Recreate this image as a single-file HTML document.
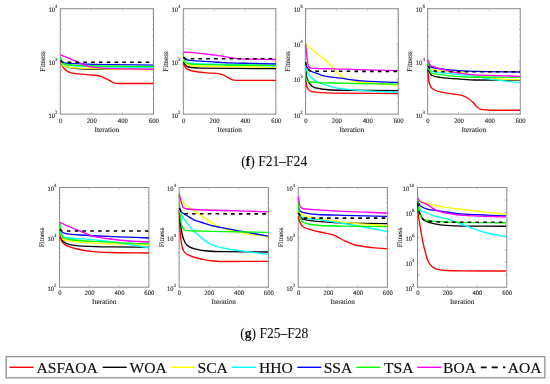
<!DOCTYPE html>
<html><head><meta charset="utf-8"><style>
html,body{margin:0;padding:0;background:#fff;width:550px;height:384px;overflow:hidden;}
body{position:relative;font-family:"Liberation Serif", serif;}
</style></head><body>
<svg width="550" height="384" viewBox="0 0 550 384" style="position:absolute;left:0;top:0;will-change:transform">
<g font-family='"Liberation Serif", serif' text-rendering="geometricPrecision">
<clipPath id="c0"><rect x="59.4" y="7.7" width="94.4" height="107.4"/></clipPath>
<path d="M60.30 98.24h1.3M153.50 98.24h-1.3M60.30 88.96h1.3M153.50 88.96h-1.3M60.30 82.37h1.3M153.50 82.37h-1.3M60.30 77.26h1.3M153.50 77.26h-1.3M60.30 73.09h1.3M153.50 73.09h-1.3M60.30 69.56h1.3M153.50 69.56h-1.3M60.30 66.51h1.3M153.50 66.51h-1.3M60.30 63.81h1.3M153.50 63.81h-1.3M60.30 45.54h1.3M153.50 45.54h-1.3M60.30 36.26h1.3M153.50 36.26h-1.3M60.30 29.67h1.3M153.50 29.67h-1.3M60.30 24.56h1.3M153.50 24.56h-1.3M60.30 20.39h1.3M153.50 20.39h-1.3M60.30 16.86h1.3M153.50 16.86h-1.3M60.30 13.81h1.3M153.50 13.81h-1.3M60.30 11.11h1.3M153.50 11.11h-1.3M60.30 114.10h2.2M153.50 114.10h-2.2M60.30 61.40h2.2M153.50 61.40h-2.2M60.30 8.70h2.2M153.50 8.70h-2.2M91.37 114.10v-2.2M91.37 8.70v2.2M122.43 114.10v-2.2M122.43 8.70v2.2" stroke="#8c8c8c" stroke-width="0.6" stroke-opacity="0.7" fill="none"/>
<rect x="60.30" y="8.70" width="93.20" height="105.40" fill="none" stroke="#8c8c8c" stroke-width="1"/>
<g clip-path="url(#c0)" fill="none" stroke-width="1.35" stroke-linejoin="round" stroke-linecap="butt"><path d="M60.60 61.50 C61.07 62.67 61.53 64.05 62.00 65.00 C62.75 66.52 63.50 67.94 64.25 68.75 C65.63 70.25 67.02 71.31 68.40 71.90 C70.13 72.64 71.87 73.14 73.60 73.40 C78.82 74.18 84.03 74.35 89.25 74.80 C92.03 75.04 94.82 75.11 97.60 75.50 C99.67 75.79 101.73 76.75 103.80 77.60 C105.20 78.17 106.60 78.95 108.00 79.70 C109.33 80.41 110.67 81.45 112.00 82.00 C113.33 82.55 114.67 83.21 116.00 83.30 C118.00 83.43 120.00 83.50 122.00 83.50 C132.33 83.50 142.67 83.50 153.00 83.50" stroke="#ff0000"/><path d="M60.60 60.40 C61.40 61.93 62.20 64.42 63.00 65.00 C65.33 66.68 67.67 67.34 70.00 67.70 C75.00 68.47 80.00 68.95 85.00 69.00 C107.67 69.24 130.33 69.20 153.00 69.30" stroke="#000000"/><path d="M60.60 60.00 C61.40 61.83 62.20 65.20 63.00 65.50 C68.67 67.65 74.33 67.91 80.00 68.20 C89.33 68.68 98.67 68.79 108.00 69.00 C123.00 69.33 138.00 69.53 153.00 69.80" stroke="#ffff00"/><path d="M60.60 59.00 C61.40 60.67 62.20 63.75 63.00 64.00 C68.67 65.77 74.33 65.92 80.00 66.20 C89.33 66.66 98.67 66.89 108.00 67.00 C123.00 67.17 138.00 67.20 153.00 67.30" stroke="#00ffff"/><path d="M60.60 60.50 C61.73 61.27 62.87 62.64 64.00 62.80 C69.33 63.54 74.67 63.58 80.00 63.80 C89.33 64.18 98.67 64.45 108.00 64.60 C123.00 64.85 138.00 64.93 153.00 65.10" stroke="#0000ff"/><path d="M60.60 57.00 C61.23 59.00 61.87 62.63 62.50 63.00 C65.00 64.48 67.50 64.83 70.00 65.00 C82.67 65.87 95.33 66.06 108.00 66.20 C123.00 66.37 138.00 66.40 153.00 66.50" stroke="#00ff00"/><path d="M60.60 55.00 C63.07 55.93 65.53 56.80 68.00 57.80 C71.17 59.09 74.33 60.60 77.50 62.00 C80.00 63.10 82.50 64.49 85.00 65.30 C87.47 66.10 89.93 66.85 92.40 67.20 C95.87 67.70 99.33 68.02 102.80 68.20 C108.53 68.51 114.27 68.67 120.00 68.80 C131.00 69.04 142.00 69.13 153.00 69.30" stroke="#ff00ff"/><path d="M60.60 60.40 C61.40 61.03 62.20 62.30 63.00 62.30 C93.00 62.30 123.00 62.30 153.00 62.30" stroke="#000000" stroke-dasharray="3.6 4.2" stroke-width="1.6"/></g>
<g fill="#2a2a2a" stroke="#2a2a2a" stroke-width="0.12"><text x="57.60" y="117.50" text-anchor="end" font-size="6.70">10<tspan dy="-4.00" font-size="4.96">2</tspan></text><text x="57.60" y="64.80" text-anchor="end" font-size="6.70">10<tspan dy="-4.00" font-size="4.96">3</tspan></text><text x="57.60" y="12.10" text-anchor="end" font-size="6.70">10<tspan dy="-4.00" font-size="4.96">4</tspan></text><text x="60.70" y="123.10" text-anchor="middle" font-size="6.70">0</text><text x="91.77" y="123.10" text-anchor="middle" font-size="6.70">200</text><text x="122.83" y="123.10" text-anchor="middle" font-size="6.70">400</text><text x="153.90" y="123.10" text-anchor="middle" font-size="6.70">600</text><text x="106.90" y="132.20" text-anchor="middle" font-size="7.30">Iteration</text><text transform="translate(44.80 61.50) rotate(-90)" text-anchor="middle" font-size="7.30">Fitness</text></g>
<clipPath id="c1"><rect x="182.4" y="7.7" width="93.8" height="107.4"/></clipPath>
<path d="M183.30 98.24h1.3M275.90 98.24h-1.3M183.30 88.96h1.3M275.90 88.96h-1.3M183.30 82.37h1.3M275.90 82.37h-1.3M183.30 77.26h1.3M275.90 77.26h-1.3M183.30 73.09h1.3M275.90 73.09h-1.3M183.30 69.56h1.3M275.90 69.56h-1.3M183.30 66.51h1.3M275.90 66.51h-1.3M183.30 63.81h1.3M275.90 63.81h-1.3M183.30 45.54h1.3M275.90 45.54h-1.3M183.30 36.26h1.3M275.90 36.26h-1.3M183.30 29.67h1.3M275.90 29.67h-1.3M183.30 24.56h1.3M275.90 24.56h-1.3M183.30 20.39h1.3M275.90 20.39h-1.3M183.30 16.86h1.3M275.90 16.86h-1.3M183.30 13.81h1.3M275.90 13.81h-1.3M183.30 11.11h1.3M275.90 11.11h-1.3M183.30 114.10h2.2M275.90 114.10h-2.2M183.30 61.40h2.2M275.90 61.40h-2.2M183.30 8.70h2.2M275.90 8.70h-2.2M214.17 114.10v-2.2M214.17 8.70v2.2M245.03 114.10v-2.2M245.03 8.70v2.2" stroke="#8c8c8c" stroke-width="0.6" stroke-opacity="0.7" fill="none"/>
<rect x="183.30" y="8.70" width="92.60" height="105.40" fill="none" stroke="#8c8c8c" stroke-width="1"/>
<g clip-path="url(#c1)" fill="none" stroke-width="1.35" stroke-linejoin="round" stroke-linecap="butt"><path d="M183.30 63.40 C184.03 64.77 184.77 66.68 185.50 67.50 C186.43 68.55 187.37 69.28 188.30 69.70 C190.03 70.48 191.77 70.93 193.50 71.25 C197.67 72.02 201.83 72.39 206.00 72.80 C210.53 73.25 215.07 73.24 219.60 73.90 C221.40 74.16 223.20 75.00 225.00 75.80 C226.67 76.54 228.33 78.07 230.00 78.80 C231.33 79.38 232.67 80.11 234.00 80.20 C236.00 80.33 238.00 80.40 240.00 80.40 C252.00 80.40 264.00 80.40 276.00 80.40" stroke="#ff0000"/><path d="M183.30 62.00 C184.97 63.67 186.63 66.68 188.30 67.00 C192.20 67.75 196.10 68.04 200.00 68.10 C225.33 68.50 250.67 68.43 276.00 68.60" stroke="#000000"/><path d="M183.30 60.00 C184.53 61.50 185.77 64.06 187.00 64.50 C189.67 65.45 192.33 65.90 195.00 66.00 C206.67 66.44 218.33 66.41 230.00 66.60 C245.33 66.85 260.67 67.07 276.00 67.30" stroke="#ffff00"/><path d="M183.30 58.00 C184.20 59.33 185.10 61.58 186.00 62.00 C188.00 62.94 190.00 63.38 192.00 63.50 C204.67 64.25 217.33 64.13 230.00 64.50 C245.33 64.95 260.67 65.50 276.00 66.00" stroke="#00ffff"/><path d="M183.30 57.00 C184.20 57.83 185.10 59.21 186.00 59.50 C187.47 59.97 188.93 60.14 190.40 60.30 C195.60 60.88 200.80 61.05 206.00 61.40 C214.00 61.93 222.00 62.62 230.00 62.90 C236.67 63.14 243.33 63.24 250.00 63.40 C258.67 63.61 267.33 63.80 276.00 64.00" stroke="#0000ff"/><path d="M183.10 52.00 C183.27 53.67 183.43 56.00 183.60 57.00 C183.93 59.00 184.27 60.41 184.60 61.00 C185.23 62.12 185.87 62.74 186.50 63.00 C188.33 63.74 190.17 64.11 192.00 64.20 C204.67 64.81 217.33 64.84 230.00 65.00 C245.33 65.19 260.67 65.27 276.00 65.40" stroke="#00ff00"/><path d="M183.30 52.00 C188.87 52.43 194.43 52.76 200.00 53.30 C205.00 53.78 210.00 54.53 215.00 55.20 C218.33 55.64 221.67 56.05 225.00 56.60 C227.33 56.99 229.67 57.66 232.00 58.00 C234.67 58.39 237.33 58.81 240.00 58.90 C252.00 59.31 264.00 59.30 276.00 59.50" stroke="#ff00ff"/><path d="M183.30 57.20 C184.20 57.72 185.10 58.75 186.00 58.75 C216.00 58.75 246.00 58.75 276.00 58.75" stroke="#000000" stroke-dasharray="3.6 4.2" stroke-width="1.6"/></g>
<g fill="#2a2a2a" stroke="#2a2a2a" stroke-width="0.12"><text x="180.60" y="117.50" text-anchor="end" font-size="6.70">10<tspan dy="-4.00" font-size="4.96">2</tspan></text><text x="180.60" y="64.80" text-anchor="end" font-size="6.70">10<tspan dy="-4.00" font-size="4.96">3</tspan></text><text x="180.60" y="12.10" text-anchor="end" font-size="6.70">10<tspan dy="-4.00" font-size="4.96">4</tspan></text><text x="183.70" y="123.10" text-anchor="middle" font-size="6.70">0</text><text x="214.57" y="123.10" text-anchor="middle" font-size="6.70">200</text><text x="245.43" y="123.10" text-anchor="middle" font-size="6.70">400</text><text x="276.30" y="123.10" text-anchor="middle" font-size="6.70">600</text><text x="229.60" y="132.20" text-anchor="middle" font-size="7.30">Iteration</text><text transform="translate(167.80 61.50) rotate(-90)" text-anchor="middle" font-size="7.30">Fitness</text></g>
<clipPath id="c2"><rect x="304.6" y="7.7" width="94.0" height="107.4"/></clipPath>
<path d="M305.50 103.52h1.3M398.30 103.52h-1.3M305.50 97.34h1.3M398.30 97.34h-1.3M305.50 92.95h1.3M398.30 92.95h-1.3M305.50 89.54h1.3M398.30 89.54h-1.3M305.50 86.76h1.3M398.30 86.76h-1.3M305.50 84.41h1.3M398.30 84.41h-1.3M305.50 82.37h1.3M398.30 82.37h-1.3M305.50 80.57h1.3M398.30 80.57h-1.3M305.50 68.39h1.3M398.30 68.39h-1.3M305.50 62.20h1.3M398.30 62.20h-1.3M305.50 57.81h1.3M398.30 57.81h-1.3M305.50 54.41h1.3M398.30 54.41h-1.3M305.50 51.63h1.3M398.30 51.63h-1.3M305.50 49.28h1.3M398.30 49.28h-1.3M305.50 47.24h1.3M398.30 47.24h-1.3M305.50 45.44h1.3M398.30 45.44h-1.3M305.50 33.26h1.3M398.30 33.26h-1.3M305.50 27.07h1.3M398.30 27.07h-1.3M305.50 22.68h1.3M398.30 22.68h-1.3M305.50 19.28h1.3M398.30 19.28h-1.3M305.50 16.49h1.3M398.30 16.49h-1.3M305.50 14.14h1.3M398.30 14.14h-1.3M305.50 12.10h1.3M398.30 12.10h-1.3M305.50 10.31h1.3M398.30 10.31h-1.3M305.50 114.10h2.2M398.30 114.10h-2.2M305.50 78.97h2.2M398.30 78.97h-2.2M305.50 43.83h2.2M398.30 43.83h-2.2M305.50 8.70h2.2M398.30 8.70h-2.2M336.43 114.10v-2.2M336.43 8.70v2.2M367.37 114.10v-2.2M367.37 8.70v2.2" stroke="#8c8c8c" stroke-width="0.6" stroke-opacity="0.7" fill="none"/>
<rect x="305.50" y="8.70" width="92.80" height="105.40" fill="none" stroke="#8c8c8c" stroke-width="1"/>
<g clip-path="url(#c2)" fill="none" stroke-width="1.35" stroke-linejoin="round" stroke-linecap="butt"><path d="M305.40 68.10 C305.57 72.27 305.73 79.06 305.90 80.60 C306.43 85.53 306.97 87.57 307.50 88.40 C308.80 90.43 310.10 91.39 311.40 91.60 C318.27 92.73 325.13 93.01 332.00 93.10 C354.00 93.39 376.00 93.37 398.00 93.50" stroke="#ff0000"/><path d="M305.40 65.00 C305.83 69.17 306.27 75.91 306.70 77.50 C307.73 81.28 308.77 82.49 309.80 83.75 C311.37 85.66 312.93 87.29 314.50 87.70 C320.33 89.24 326.17 89.88 332.00 90.00 C354.00 90.45 376.00 90.40 398.00 90.60" stroke="#000000"/><path d="M305.40 43.90 C309.47 47.27 313.53 50.68 317.60 54.00 C320.20 56.12 322.80 57.96 325.40 60.30 C328.03 62.67 330.67 65.65 333.30 68.30 C335.73 70.75 338.17 73.96 340.60 75.60 C343.03 77.24 345.47 78.36 347.90 79.30 C350.68 80.38 353.47 81.54 356.25 81.90 C359.17 82.27 362.08 82.38 365.00 82.60 C376.00 83.45 387.00 84.20 398.00 85.00" stroke="#ffff00"/><path d="M305.40 67.30 C306.87 70.20 308.33 74.27 309.80 76.00 C312.40 79.07 315.00 80.94 317.60 82.20 C322.40 84.52 327.20 85.80 332.00 86.90 C336.33 87.89 340.67 88.70 345.00 89.20 C350.67 89.85 356.33 90.25 362.00 90.60 C374.00 91.34 386.00 91.73 398.00 92.30" stroke="#00ffff"/><path d="M305.40 65.00 C306.87 66.83 308.33 69.57 309.80 70.50 C312.40 72.15 315.00 72.65 317.60 73.60 C320.07 74.50 322.53 75.59 325.00 76.10 C330.00 77.14 335.00 77.55 340.00 78.20 C348.33 79.28 356.67 80.69 365.00 81.20 C376.00 81.87 387.00 82.07 398.00 82.50" stroke="#0000ff"/><path d="M305.10 44.50 C305.20 53.00 305.30 67.36 305.40 70.00 C305.60 75.28 305.80 77.83 306.00 78.50 C306.50 80.18 307.00 80.66 307.50 81.00 C308.33 81.57 309.17 81.90 310.00 82.00 C311.50 82.18 313.00 82.22 314.50 82.30 C320.33 82.61 326.17 82.84 332.00 83.00 C354.00 83.59 376.00 83.80 398.00 84.20" stroke="#00ff00"/><path d="M305.60 44.20 C305.87 46.80 306.13 49.50 306.40 52.00 C306.73 55.12 307.07 58.80 307.40 61.00 C307.73 63.20 308.07 65.61 308.40 66.20 C308.93 67.14 309.47 67.61 310.00 67.80 C310.47 67.96 310.93 68.06 311.40 68.10 C318.27 68.67 325.13 68.68 332.00 68.90 C354.00 69.61 376.00 70.03 398.00 70.60" stroke="#ff00ff"/><path d="M305.40 62.00 C306.27 64.33 307.13 68.00 308.00 69.00 C308.87 70.00 309.73 70.84 310.60 70.90 C313.73 71.13 316.87 71.18 320.00 71.20 C346.00 71.36 372.00 71.33 398.00 71.40" stroke="#000000" stroke-dasharray="3.6 4.2" stroke-width="1.6"/></g>
<g fill="#2a2a2a" stroke="#2a2a2a" stroke-width="0.12"><text x="302.80" y="117.50" text-anchor="end" font-size="6.70">10<tspan dy="-4.00" font-size="4.96">2</tspan></text><text x="302.80" y="82.37" text-anchor="end" font-size="6.70">10<tspan dy="-4.00" font-size="4.96">3</tspan></text><text x="302.80" y="47.23" text-anchor="end" font-size="6.70">10<tspan dy="-4.00" font-size="4.96">4</tspan></text><text x="302.80" y="12.10" text-anchor="end" font-size="6.70">10<tspan dy="-4.00" font-size="4.96">5</tspan></text><text x="305.90" y="123.10" text-anchor="middle" font-size="6.70">0</text><text x="336.83" y="123.10" text-anchor="middle" font-size="6.70">200</text><text x="367.77" y="123.10" text-anchor="middle" font-size="6.70">400</text><text x="398.70" y="123.10" text-anchor="middle" font-size="6.70">600</text><text x="351.90" y="132.20" text-anchor="middle" font-size="7.30">Iteration</text><text transform="translate(290.00 61.50) rotate(-90)" text-anchor="middle" font-size="7.30">Fitness</text></g>
<clipPath id="c3"><rect x="426.7" y="7.7" width="93.9" height="107.4"/></clipPath>
<path d="M427.60 98.24h1.3M520.30 98.24h-1.3M427.60 88.96h1.3M520.30 88.96h-1.3M427.60 82.37h1.3M520.30 82.37h-1.3M427.60 77.26h1.3M520.30 77.26h-1.3M427.60 73.09h1.3M520.30 73.09h-1.3M427.60 69.56h1.3M520.30 69.56h-1.3M427.60 66.51h1.3M520.30 66.51h-1.3M427.60 63.81h1.3M520.30 63.81h-1.3M427.60 45.54h1.3M520.30 45.54h-1.3M427.60 36.26h1.3M520.30 36.26h-1.3M427.60 29.67h1.3M520.30 29.67h-1.3M427.60 24.56h1.3M520.30 24.56h-1.3M427.60 20.39h1.3M520.30 20.39h-1.3M427.60 16.86h1.3M520.30 16.86h-1.3M427.60 13.81h1.3M520.30 13.81h-1.3M427.60 11.11h1.3M520.30 11.11h-1.3M427.60 114.10h2.2M520.30 114.10h-2.2M427.60 61.40h2.2M520.30 61.40h-2.2M427.60 8.70h2.2M520.30 8.70h-2.2M458.50 114.10v-2.2M458.50 8.70v2.2M489.40 114.10v-2.2M489.40 8.70v2.2" stroke="#8c8c8c" stroke-width="0.6" stroke-opacity="0.7" fill="none"/>
<rect x="427.60" y="8.70" width="92.70" height="105.40" fill="none" stroke="#8c8c8c" stroke-width="1"/>
<g clip-path="url(#c3)" fill="none" stroke-width="1.35" stroke-linejoin="round" stroke-linecap="butt"><path d="M427.70 70.00 C428.13 74.10 428.57 80.87 429.00 82.30 C430.33 86.71 431.67 88.36 433.00 89.20 C436.10 91.15 439.20 91.74 442.30 92.40 C446.83 93.36 451.37 93.67 455.90 94.40 C458.17 94.77 460.43 94.99 462.70 95.60 C464.47 96.07 466.23 97.18 468.00 98.30 C469.67 99.36 471.33 100.89 473.00 102.50 C474.33 103.79 475.67 105.96 477.00 107.00 C478.33 108.04 479.67 109.17 481.00 109.40 C484.00 109.91 487.00 110.20 490.00 110.20 C500.00 110.20 510.00 110.20 520.00 110.20" stroke="#ff0000"/><path d="M427.70 68.70 C429.13 70.97 430.57 74.89 432.00 75.50 C434.67 76.64 437.33 76.93 440.00 77.30 C446.67 78.21 453.33 78.62 460.00 79.10 C465.00 79.46 470.00 79.95 475.00 80.00 C490.00 80.14 505.00 80.13 520.00 80.20" stroke="#000000"/><path d="M427.70 66.80 C428.47 67.43 429.23 68.40 430.00 68.70 C433.33 70.02 436.67 70.52 440.00 70.90 C446.67 71.65 453.33 71.55 460.00 72.30 C465.00 72.86 470.00 75.13 475.00 76.00 C483.33 77.44 491.67 78.86 500.00 79.20 C506.67 79.47 513.33 79.53 520.00 79.70" stroke="#ffff00"/><path d="M428.00 68.70 C429.33 69.60 430.67 71.05 432.00 71.40 C436.33 72.53 440.67 72.67 445.00 73.20 C455.00 74.43 465.00 75.00 475.00 76.40 C480.00 77.10 485.00 78.46 490.00 79.20 C500.00 80.67 510.00 81.53 520.00 82.70" stroke="#00ffff"/><path d="M427.70 64.10 C428.63 65.00 429.57 66.46 430.50 66.80 C434.67 68.30 438.83 68.64 443.00 69.10 C453.67 70.28 464.33 71.15 475.00 71.40 C490.00 71.75 505.00 71.80 520.00 72.00" stroke="#0000ff"/><path d="M427.70 62.30 C428.80 65.80 429.90 72.32 431.00 72.80 C434.00 74.11 437.00 74.24 440.00 74.60 C451.67 75.99 463.33 77.20 475.00 77.20 C490.00 77.20 505.00 77.13 520.00 77.10" stroke="#00ff00"/><path d="M427.70 59.60 C428.63 61.57 429.57 64.91 430.50 65.50 C431.70 66.26 432.90 66.40 434.10 66.80 C437.13 67.82 440.17 68.79 443.20 69.60 C447.77 70.82 452.33 72.10 456.90 72.80 C462.93 73.72 468.97 74.47 475.00 74.80 C490.00 75.63 505.00 75.80 520.00 76.30" stroke="#ff00ff"/><path d="M427.70 66.00 C429.13 67.50 430.57 70.09 432.00 70.50 C434.67 71.26 437.33 71.70 440.00 71.70 C466.67 71.70 493.33 71.70 520.00 71.70" stroke="#000000" stroke-dasharray="3.6 4.2" stroke-width="1.6"/></g>
<g fill="#2a2a2a" stroke="#2a2a2a" stroke-width="0.12"><text x="424.90" y="117.50" text-anchor="end" font-size="6.70">10<tspan dy="-4.00" font-size="4.96">3</tspan></text><text x="424.90" y="64.80" text-anchor="end" font-size="6.70">10<tspan dy="-4.00" font-size="4.96">4</tspan></text><text x="424.90" y="12.10" text-anchor="end" font-size="6.70">10<tspan dy="-4.00" font-size="4.96">5</tspan></text><text x="428.00" y="123.10" text-anchor="middle" font-size="6.70">0</text><text x="458.90" y="123.10" text-anchor="middle" font-size="6.70">200</text><text x="489.80" y="123.10" text-anchor="middle" font-size="6.70">400</text><text x="520.70" y="123.10" text-anchor="middle" font-size="6.70">600</text><text x="473.95" y="132.20" text-anchor="middle" font-size="7.30">Iteration</text><text transform="translate(412.10 61.50) rotate(-90)" text-anchor="middle" font-size="7.30">Fitness</text></g>
<clipPath id="c4"><rect x="58.6" y="186.5" width="90.6" height="101.7"/></clipPath>
<path d="M59.50 272.19h1.3M148.90 272.19h-1.3M59.50 263.42h1.3M148.90 263.42h-1.3M59.50 257.19h1.3M148.90 257.19h-1.3M59.50 252.36h1.3M148.90 252.36h-1.3M59.50 248.41h1.3M148.90 248.41h-1.3M59.50 245.07h1.3M148.90 245.07h-1.3M59.50 242.18h1.3M148.90 242.18h-1.3M59.50 239.63h1.3M148.90 239.63h-1.3M59.50 222.34h1.3M148.90 222.34h-1.3M59.50 213.57h1.3M148.90 213.57h-1.3M59.50 207.34h1.3M148.90 207.34h-1.3M59.50 202.51h1.3M148.90 202.51h-1.3M59.50 198.56h1.3M148.90 198.56h-1.3M59.50 195.22h1.3M148.90 195.22h-1.3M59.50 192.33h1.3M148.90 192.33h-1.3M59.50 189.78h1.3M148.90 189.78h-1.3M59.50 287.20h2.2M148.90 287.20h-2.2M59.50 237.35h2.2M148.90 237.35h-2.2M59.50 187.50h2.2M148.90 187.50h-2.2M89.30 287.20v-2.2M89.30 187.50v2.2M119.10 287.20v-2.2M119.10 187.50v2.2" stroke="#8c8c8c" stroke-width="0.6" stroke-opacity="0.7" fill="none"/>
<rect x="59.50" y="187.50" width="89.40" height="99.70" fill="none" stroke="#8c8c8c" stroke-width="1"/>
<g clip-path="url(#c4)" fill="none" stroke-width="1.35" stroke-linejoin="round" stroke-linecap="butt"><path d="M60.00 237.00 C60.33 238.00 60.67 239.32 61.00 240.00 C61.67 241.36 62.33 242.25 63.00 242.90 C64.73 244.58 66.47 245.66 68.20 246.40 C71.13 247.65 74.07 248.36 77.00 249.00 C81.63 250.00 86.27 250.84 90.90 251.30 C96.73 251.87 102.57 252.37 108.40 252.50 C121.93 252.81 135.47 252.83 149.00 253.00" stroke="#ff0000"/><path d="M60.00 229.80 C60.33 231.87 60.67 234.72 61.00 236.00 C61.67 238.56 62.33 240.56 63.00 241.20 C65.33 243.44 67.67 244.24 70.00 244.70 C74.07 245.50 78.13 245.90 82.20 246.10 C91.47 246.56 100.73 246.76 110.00 246.90 C123.00 247.10 136.00 247.17 149.00 247.30" stroke="#000000"/><path d="M60.00 231.00 C60.50 232.67 61.00 234.65 61.50 236.00 C62.00 237.35 62.50 239.15 63.00 239.40 C65.33 240.58 67.67 240.66 70.00 241.00 C76.67 241.96 83.33 242.49 90.00 242.90 C100.00 243.51 110.00 243.86 120.00 244.20 C129.67 244.53 139.33 244.73 149.00 245.00" stroke="#ffff00"/><path d="M60.00 226.00 C60.33 228.33 60.67 231.94 61.00 233.00 C61.67 235.13 62.33 236.55 63.00 236.80 C65.33 237.67 67.67 237.75 70.00 238.00 C76.67 238.71 83.33 238.83 90.00 239.40 C100.00 240.26 110.00 241.47 120.00 242.90 C125.00 243.61 130.00 244.66 135.00 245.50 C139.67 246.29 144.33 247.03 149.00 247.80" stroke="#00ffff"/><path d="M60.00 229.80 C60.67 230.53 61.33 231.57 62.00 232.00 C63.00 232.64 64.00 233.09 65.00 233.30 C70.00 234.33 75.00 234.66 80.00 235.00 C93.33 235.92 106.67 236.23 120.00 236.80 C129.67 237.22 139.33 237.60 149.00 238.00" stroke="#0000ff"/><path d="M60.00 223.00 C60.33 226.00 60.67 230.47 61.00 232.00 C61.67 235.06 62.33 237.33 63.00 237.70 C65.33 239.00 67.67 239.18 70.00 239.50 C76.67 240.43 83.33 240.76 90.00 241.20 C100.00 241.87 110.00 242.38 120.00 242.80 C129.67 243.20 139.33 243.47 149.00 243.80" stroke="#00ff00"/><path d="M60.00 222.30 C63.33 223.87 66.67 225.56 70.00 227.00 C73.33 228.44 76.67 229.68 80.00 231.00 C84.50 232.78 89.00 235.25 93.50 236.30 C99.00 237.59 104.50 238.31 110.00 239.00 C116.67 239.83 123.33 240.54 130.00 241.00 C136.33 241.44 142.67 241.67 149.00 242.00" stroke="#ff00ff"/><path d="M60.00 228.90 C60.67 229.60 61.33 231.00 62.00 231.00 C91.00 231.00 120.00 231.00 149.00 231.00" stroke="#000000" stroke-dasharray="3.6 4.2" stroke-width="1.6"/></g>
<g fill="#2a2a2a" stroke="#2a2a2a" stroke-width="0.12"><text x="56.50" y="290.50" text-anchor="end" font-size="6.60">10<tspan dy="-3.40" font-size="4.88">2</tspan></text><text x="56.50" y="240.65" text-anchor="end" font-size="6.60">10<tspan dy="-3.40" font-size="4.88">3</tspan></text><text x="56.50" y="190.80" text-anchor="end" font-size="6.60">10<tspan dy="-3.40" font-size="4.88">4</tspan></text><text x="59.90" y="295.40" text-anchor="middle" font-size="6.60">0</text><text x="89.70" y="295.40" text-anchor="middle" font-size="6.60">200</text><text x="119.50" y="295.40" text-anchor="middle" font-size="6.60">400</text><text x="149.30" y="295.40" text-anchor="middle" font-size="6.60">600</text><text x="104.20" y="303.90" text-anchor="middle" font-size="7.20">Iteration</text><text transform="translate(44.00 237.45) rotate(-90)" text-anchor="middle" font-size="7.00">Fitness</text></g>
<clipPath id="c5"><rect x="178.2" y="186.5" width="90.5" height="101.7"/></clipPath>
<path d="M179.10 272.19h1.3M268.40 272.19h-1.3M179.10 263.42h1.3M268.40 263.42h-1.3M179.10 257.19h1.3M268.40 257.19h-1.3M179.10 252.36h1.3M268.40 252.36h-1.3M179.10 248.41h1.3M268.40 248.41h-1.3M179.10 245.07h1.3M268.40 245.07h-1.3M179.10 242.18h1.3M268.40 242.18h-1.3M179.10 239.63h1.3M268.40 239.63h-1.3M179.10 222.34h1.3M268.40 222.34h-1.3M179.10 213.57h1.3M268.40 213.57h-1.3M179.10 207.34h1.3M268.40 207.34h-1.3M179.10 202.51h1.3M268.40 202.51h-1.3M179.10 198.56h1.3M268.40 198.56h-1.3M179.10 195.22h1.3M268.40 195.22h-1.3M179.10 192.33h1.3M268.40 192.33h-1.3M179.10 189.78h1.3M268.40 189.78h-1.3M179.10 287.20h2.2M268.40 287.20h-2.2M179.10 237.35h2.2M268.40 237.35h-2.2M179.10 187.50h2.2M268.40 187.50h-2.2M208.87 287.20v-2.2M208.87 187.50v2.2M238.63 287.20v-2.2M238.63 187.50v2.2" stroke="#8c8c8c" stroke-width="0.6" stroke-opacity="0.7" fill="none"/>
<rect x="179.10" y="187.50" width="89.30" height="99.70" fill="none" stroke="#8c8c8c" stroke-width="1"/>
<g clip-path="url(#c5)" fill="none" stroke-width="1.35" stroke-linejoin="round" stroke-linecap="butt"><path d="M179.20 211.00 C179.30 214.67 179.40 219.82 179.50 222.00 C179.80 228.53 180.10 231.34 180.40 234.50 C180.80 238.72 181.20 242.55 181.60 244.50 C182.23 247.59 182.87 249.72 183.50 250.75 C184.75 252.79 186.00 253.76 187.25 254.50 C189.33 255.73 191.42 256.35 193.50 257.00 C196.83 258.04 200.17 258.88 203.50 259.50 C206.83 260.12 210.17 260.76 213.50 261.00 C217.00 261.25 220.50 261.50 224.00 261.50 C238.67 261.50 253.33 261.37 268.00 261.30" stroke="#ff0000"/><path d="M179.30 209.75 C179.87 215.58 180.43 223.10 181.00 227.25 C181.42 230.30 181.83 232.79 182.25 234.50 C183.08 237.92 183.92 240.55 184.75 242.00 C186.00 244.17 187.25 245.62 188.50 246.40 C190.58 247.70 192.67 248.36 194.75 248.90 C198.08 249.77 201.42 250.47 204.75 250.75 C211.17 251.28 217.58 251.61 224.00 251.70 C238.67 251.89 253.33 251.90 268.00 252.00" stroke="#000000"/><path d="M179.30 195.40 C180.70 197.90 182.10 201.25 183.50 202.90 C185.17 204.87 186.83 206.06 188.50 207.25 C190.58 208.74 192.67 209.65 194.75 211.00 C196.83 212.35 198.92 213.97 201.00 215.40 C203.50 217.11 206.00 218.73 208.50 220.40 C211.00 222.07 213.50 224.12 216.00 225.40 C218.67 226.76 221.33 227.86 224.00 228.70 C231.00 230.90 238.00 232.57 245.00 233.70 C252.67 234.94 260.33 235.57 268.00 236.50" stroke="#ffff00"/><path d="M179.30 211.00 C180.70 213.50 182.10 216.43 183.50 218.50 C185.17 220.96 186.83 222.53 188.50 224.75 C189.33 225.86 190.17 227.26 191.00 228.25 C192.67 230.23 194.33 231.73 196.00 233.25 C198.50 235.54 201.00 237.65 203.50 239.50 C206.00 241.35 208.50 243.46 211.00 244.50 C215.33 246.31 219.67 247.37 224.00 248.25 C231.00 249.67 238.00 250.44 245.00 251.40 C252.67 252.45 260.33 253.33 268.00 254.30" stroke="#00ffff"/><path d="M179.30 210.40 C180.70 211.43 182.10 212.55 183.50 213.50 C185.17 214.63 186.83 215.58 188.50 216.60 C190.58 217.88 192.67 219.57 194.75 220.40 C196.83 221.23 198.92 221.63 201.00 222.25 C205.17 223.49 209.33 225.01 213.50 226.00 C217.00 226.84 220.50 227.43 224.00 228.10 C231.00 229.44 238.00 230.63 245.00 231.90 C252.67 233.29 260.33 234.70 268.00 236.10" stroke="#0000ff"/><path d="M179.30 193.50 C179.47 199.33 179.63 208.37 179.80 211.00 C180.20 217.32 180.60 219.80 181.00 222.00 C181.33 223.83 181.67 225.04 182.00 226.00 C182.50 227.45 183.00 229.01 183.50 229.30 C185.17 230.26 186.83 230.59 188.50 230.70 C192.67 230.97 196.83 230.99 201.00 231.10 C208.67 231.30 216.33 231.45 224.00 231.60 C238.67 231.89 253.33 232.13 268.00 232.40" stroke="#00ff00"/><path d="M179.30 194.10 C179.87 196.40 180.43 198.94 181.00 201.00 C181.63 203.31 182.27 206.68 182.90 207.25 C183.93 208.18 184.97 208.58 186.00 208.75 C188.92 209.23 191.83 209.35 194.75 209.50 C204.50 210.02 214.25 210.19 224.00 210.50 C238.67 210.97 253.33 211.37 268.00 211.80" stroke="#ff00ff"/><path d="M179.30 208.00 C180.20 209.50 181.10 211.89 182.00 212.50 C183.00 213.17 184.00 213.75 185.00 213.75 C212.67 213.85 240.33 213.82 268.00 213.85" stroke="#000000" stroke-dasharray="3.6 4.2" stroke-width="1.6"/></g>
<g fill="#2a2a2a" stroke="#2a2a2a" stroke-width="0.12"><text x="176.10" y="290.50" text-anchor="end" font-size="6.60">10<tspan dy="-3.40" font-size="4.88">2</tspan></text><text x="176.10" y="240.65" text-anchor="end" font-size="6.60">10<tspan dy="-3.40" font-size="4.88">3</tspan></text><text x="176.10" y="190.80" text-anchor="end" font-size="6.60">10<tspan dy="-3.40" font-size="4.88">4</tspan></text><text x="179.50" y="295.40" text-anchor="middle" font-size="6.60">0</text><text x="209.27" y="295.40" text-anchor="middle" font-size="6.60">200</text><text x="239.03" y="295.40" text-anchor="middle" font-size="6.60">400</text><text x="268.80" y="295.40" text-anchor="middle" font-size="6.60">600</text><text x="223.75" y="303.90" text-anchor="middle" font-size="7.20">Iteration</text><text transform="translate(163.60 237.45) rotate(-90)" text-anchor="middle" font-size="7.00">Fitness</text></g>
<clipPath id="c6"><rect x="297.3" y="186.5" width="90.4" height="101.7"/></clipPath>
<path d="M298.20 272.19h1.3M387.40 272.19h-1.3M298.20 263.42h1.3M387.40 263.42h-1.3M298.20 257.19h1.3M387.40 257.19h-1.3M298.20 252.36h1.3M387.40 252.36h-1.3M298.20 248.41h1.3M387.40 248.41h-1.3M298.20 245.07h1.3M387.40 245.07h-1.3M298.20 242.18h1.3M387.40 242.18h-1.3M298.20 239.63h1.3M387.40 239.63h-1.3M298.20 222.34h1.3M387.40 222.34h-1.3M298.20 213.57h1.3M387.40 213.57h-1.3M298.20 207.34h1.3M387.40 207.34h-1.3M298.20 202.51h1.3M387.40 202.51h-1.3M298.20 198.56h1.3M387.40 198.56h-1.3M298.20 195.22h1.3M387.40 195.22h-1.3M298.20 192.33h1.3M387.40 192.33h-1.3M298.20 189.78h1.3M387.40 189.78h-1.3M298.20 287.20h2.2M387.40 287.20h-2.2M298.20 237.35h2.2M387.40 237.35h-2.2M298.20 187.50h2.2M387.40 187.50h-2.2M327.93 287.20v-2.2M327.93 187.50v2.2M357.67 287.20v-2.2M357.67 187.50v2.2" stroke="#8c8c8c" stroke-width="0.6" stroke-opacity="0.7" fill="none"/>
<rect x="298.20" y="187.50" width="89.20" height="99.70" fill="none" stroke="#8c8c8c" stroke-width="1"/>
<g clip-path="url(#c6)" fill="none" stroke-width="1.35" stroke-linejoin="round" stroke-linecap="butt"><path d="M298.20 216.10 C298.88 218.43 299.57 221.82 300.25 223.10 C301.30 225.07 302.35 226.34 303.40 227.00 C305.47 228.29 307.53 228.76 309.60 229.40 C313.77 230.69 317.93 231.55 322.10 232.50 C325.73 233.33 329.37 233.66 333.00 234.80 C334.58 235.30 336.17 236.38 337.75 237.20 C339.83 238.27 341.92 239.53 344.00 240.50 C347.67 242.21 351.33 244.16 355.00 245.00 C360.00 246.14 365.00 246.71 370.00 247.30 C375.67 247.96 381.33 248.37 387.00 248.90" stroke="#ff0000"/><path d="M298.20 213.00 C299.80 215.07 301.40 218.72 303.00 219.20 C308.67 220.90 314.33 221.10 320.00 221.60 C328.00 222.31 336.00 222.93 344.00 223.10 C358.33 223.40 372.67 223.43 387.00 223.60" stroke="#000000"/><path d="M298.20 211.40 C299.93 212.70 301.67 214.65 303.40 215.30 C308.07 217.04 312.73 217.56 317.40 218.40 C326.27 220.00 335.13 221.33 344.00 222.30 C358.33 223.86 372.67 224.70 387.00 225.90" stroke="#ffff00"/><path d="M298.20 213.00 C299.80 214.57 301.40 217.26 303.00 217.70 C308.67 219.27 314.33 219.21 320.00 220.00 C328.00 221.12 336.00 222.23 344.00 223.50 C349.33 224.35 354.67 225.29 360.00 226.25 C369.00 227.87 378.00 229.68 387.00 231.40" stroke="#00ffff"/><path d="M298.20 208.30 C299.40 209.60 300.60 211.83 301.80 212.20 C307.00 213.80 312.20 214.22 317.40 214.50 C326.27 214.97 335.13 215.05 344.00 215.30 C358.33 215.70 372.67 216.03 387.00 216.40" stroke="#0000ff"/><path d="M298.20 199.70 C298.80 205.93 299.40 217.21 300.00 218.40 C301.67 221.71 303.33 222.58 305.00 223.10 C310.00 224.65 315.00 225.27 320.00 225.50 C328.00 225.87 336.00 225.95 344.00 226.10 C358.33 226.36 372.67 226.50 387.00 226.70" stroke="#00ff00"/><path d="M298.20 196.60 C298.88 199.97 299.57 205.87 300.25 206.70 C301.30 207.98 302.35 208.58 303.40 208.75 C308.07 209.50 312.73 209.48 317.40 209.80 C326.27 210.40 335.13 210.98 344.00 211.40 C358.33 212.07 372.67 212.47 387.00 213.00" stroke="#ff00ff"/><path d="M298.20 213.00 C299.80 214.70 301.40 218.10 303.00 218.10 C331.00 218.10 359.00 218.10 387.00 218.10" stroke="#000000" stroke-dasharray="3.6 4.2" stroke-width="1.6"/></g>
<g fill="#2a2a2a" stroke="#2a2a2a" stroke-width="0.12"><text x="295.20" y="290.50" text-anchor="end" font-size="6.60">10<tspan dy="-3.40" font-size="4.88">2</tspan></text><text x="295.20" y="240.65" text-anchor="end" font-size="6.60">10<tspan dy="-3.40" font-size="4.88">3</tspan></text><text x="295.20" y="190.80" text-anchor="end" font-size="6.60">10<tspan dy="-3.40" font-size="4.88">4</tspan></text><text x="298.60" y="295.40" text-anchor="middle" font-size="6.60">0</text><text x="328.33" y="295.40" text-anchor="middle" font-size="6.60">200</text><text x="358.07" y="295.40" text-anchor="middle" font-size="6.60">400</text><text x="387.80" y="295.40" text-anchor="middle" font-size="6.60">600</text><text x="342.80" y="303.90" text-anchor="middle" font-size="7.20">Iteration</text><text transform="translate(282.70 237.45) rotate(-90)" text-anchor="middle" font-size="7.00">Fitness</text></g>
<clipPath id="c7"><rect x="416.6" y="186.5" width="90.5" height="101.7"/></clipPath>
<path d="M417.50 287.20h2.2M506.80 287.20h-2.2M417.50 274.74h2.2M506.80 274.74h-2.2M417.50 262.27h2.2M506.80 262.27h-2.2M417.50 249.81h2.2M506.80 249.81h-2.2M417.50 237.35h2.2M506.80 237.35h-2.2M417.50 224.89h2.2M506.80 224.89h-2.2M417.50 212.43h2.2M506.80 212.43h-2.2M417.50 199.96h2.2M506.80 199.96h-2.2M417.50 187.50h2.2M506.80 187.50h-2.2M417.50 274.74h1.5M506.80 274.74h-1.5M417.50 262.27h1.5M506.80 262.27h-1.5M417.50 249.81h1.5M506.80 249.81h-1.5M417.50 237.35h1.5M506.80 237.35h-1.5M417.50 224.89h1.5M506.80 224.89h-1.5M417.50 212.43h1.5M506.80 212.43h-1.5M417.50 199.96h1.5M506.80 199.96h-1.5M417.50 187.50h1.5M506.80 187.50h-1.5M447.27 287.20v-2.2M447.27 187.50v2.2M477.03 287.20v-2.2M477.03 187.50v2.2" stroke="#8c8c8c" stroke-width="0.6" stroke-opacity="0.7" fill="none"/>
<rect x="417.50" y="187.50" width="89.30" height="99.70" fill="none" stroke="#8c8c8c" stroke-width="1"/>
<g clip-path="url(#c7)" fill="none" stroke-width="1.35" stroke-linejoin="round" stroke-linecap="butt"><path d="M417.60 200.50 C417.80 205.00 418.00 211.80 418.20 214.00 C418.77 220.25 419.33 221.48 419.90 225.00 C420.33 227.69 420.77 230.31 421.20 232.80 C421.83 236.44 422.47 240.25 423.10 243.20 C423.97 247.24 424.83 250.61 425.70 253.60 C426.57 256.59 427.43 259.85 428.30 261.50 C429.60 263.97 430.90 265.73 432.20 266.70 C433.93 267.99 435.67 268.90 437.40 269.30 C440.27 269.96 443.13 270.37 446.00 270.50 C451.67 270.75 457.33 270.87 463.00 270.90 C477.33 270.97 491.67 270.97 506.00 271.00" stroke="#ff0000"/><path d="M417.60 199.50 C417.90 202.60 418.20 207.18 418.50 208.80 C419.00 211.51 419.50 212.91 420.00 214.00 C421.47 217.19 422.93 219.41 424.40 220.30 C427.87 222.41 431.33 223.23 434.80 223.90 C438.53 224.62 442.27 225.16 446.00 225.40 C451.67 225.77 457.33 226.06 463.00 226.10 C477.33 226.20 491.67 226.20 506.00 226.25" stroke="#000000"/><path d="M417.60 198.90 C418.48 199.60 419.37 200.55 420.25 201.00 C423.37 202.58 426.48 203.32 429.60 204.10 C435.07 205.48 440.53 206.45 446.00 207.30 C451.67 208.18 457.33 208.80 463.00 209.50 C470.33 210.41 477.67 211.31 485.00 212.10 C492.00 212.86 499.00 213.50 506.00 214.20" stroke="#ffff00"/><path d="M417.60 201.50 C418.48 204.30 419.37 209.06 420.25 209.90 C422.33 211.88 424.42 212.11 426.50 213.00 C429.27 214.19 432.03 215.30 434.80 216.10 C438.53 217.18 442.27 217.69 446.00 218.70 C450.33 219.88 454.67 221.44 459.00 223.00 C462.67 224.32 466.33 225.95 470.00 227.30 C475.00 229.14 480.00 231.21 485.00 232.50 C492.00 234.30 499.00 235.30 506.00 236.70" stroke="#00ffff"/><path d="M417.60 201.00 C418.48 202.57 419.37 204.96 420.25 205.70 C422.33 207.45 424.42 208.21 426.50 208.80 C429.27 209.58 432.03 209.94 434.80 210.40 C438.53 211.02 442.27 211.49 446.00 212.00 C451.67 212.77 457.33 213.84 463.00 214.20 C477.33 215.10 491.67 215.27 506.00 215.80" stroke="#0000ff"/><path d="M417.60 195.80 C417.73 198.40 417.87 202.07 418.00 203.60 C418.33 207.42 418.67 209.27 419.00 211.00 C419.33 212.73 419.67 214.27 420.00 215.00 C420.77 216.69 421.53 217.61 422.30 218.20 C423.70 219.28 425.10 220.01 426.50 220.30 C429.27 220.88 432.03 221.09 434.80 221.30 C438.53 221.58 442.27 221.72 446.00 221.90 C451.67 222.17 457.33 222.57 463.00 222.60 C477.33 222.67 491.67 222.67 506.00 222.70" stroke="#00ff00"/><path d="M417.60 197.90 C418.48 199.10 419.37 200.86 420.25 201.50 C422.67 203.25 425.08 203.39 427.50 204.70 C429.25 205.65 431.00 207.29 432.75 208.30 C434.50 209.31 436.25 210.29 438.00 210.90 C440.67 211.83 443.33 212.50 446.00 213.00 C451.67 214.05 457.33 214.94 463.00 215.30 C477.33 216.21 491.67 216.37 506.00 216.90" stroke="#ff00ff"/><path d="M417.60 203.00 C418.40 206.67 419.20 212.16 420.00 214.00 C421.47 217.37 422.93 219.90 424.40 220.30 C427.60 221.18 430.80 221.34 434.00 221.60 C438.00 221.93 442.00 222.30 446.00 222.30 C466.00 222.30 486.00 222.30 506.00 222.30" stroke="#000000" stroke-dasharray="3.6 4.2" stroke-width="1.6"/></g>
<g fill="#2a2a2a" stroke="#2a2a2a" stroke-width="0.12"><text x="414.50" y="290.50" text-anchor="end" font-size="6.60">10<tspan dy="-3.40" font-size="4.88">2</tspan></text><text x="414.50" y="265.57" text-anchor="end" font-size="6.60">10<tspan dy="-3.40" font-size="4.88">4</tspan></text><text x="414.50" y="240.65" text-anchor="end" font-size="6.60">10<tspan dy="-3.40" font-size="4.88">6</tspan></text><text x="414.50" y="215.73" text-anchor="end" font-size="6.60">10<tspan dy="-3.40" font-size="4.88">8</tspan></text><text x="414.20" y="190.80" text-anchor="end" font-size="6.60">10<tspan dy="-3.40" font-size="4.88">10</tspan></text><text x="417.90" y="295.40" text-anchor="middle" font-size="6.60">0</text><text x="447.67" y="295.40" text-anchor="middle" font-size="6.60">200</text><text x="477.43" y="295.40" text-anchor="middle" font-size="6.60">400</text><text x="507.20" y="295.40" text-anchor="middle" font-size="6.60">600</text><text x="462.15" y="303.90" text-anchor="middle" font-size="7.20">Iteration</text><text transform="translate(402.00 237.45) rotate(-90)" text-anchor="middle" font-size="7.00">Fitness</text></g>
</g>
<text x="241.2" y="165.6" textLength="66" lengthAdjust="spacingAndGlyphs" font-family='"Liberation Serif", serif' font-size="13.8" fill="#111" stroke="#111" stroke-width="0.08">(<tspan font-weight="bold">f</tspan>) F21–F24</text>
<text x="240.2" y="337.6" textLength="68.2" lengthAdjust="spacingAndGlyphs" font-family='"Liberation Serif", serif' font-size="13.8" fill="#111" stroke="#111" stroke-width="0.08">(<tspan font-weight="bold">g</tspan>) F25–F28</text>
<rect x="6.1" y="356.7" width="538.8" height="21.1" fill="#fff" stroke="#888" stroke-width="1.2"/>
<path d="M9.5 367.3h24" stroke="#ff0000" stroke-width="1.4"/>
<text x="36.5" y="372.9" font-family='"Liberation Serif", serif' font-size="15.6" fill="#111" stroke="#111" stroke-width="0.18">ASFAOA</text>
<path d="M102.7 367.3h24" stroke="#000000" stroke-width="1.4"/>
<text x="129.5" y="372.9" font-family='"Liberation Serif", serif' font-size="15.6" fill="#111" stroke="#111" stroke-width="0.18">WOA</text>
<path d="M170.5 367.3h24" stroke="#ffff00" stroke-width="1.4"/>
<text x="197.5" y="372.9" font-family='"Liberation Serif", serif' font-size="15.6" fill="#111" stroke="#111" stroke-width="0.18">SCA</text>
<path d="M232.2 367.3h24" stroke="#00ffff" stroke-width="1.4"/>
<text x="259.1" y="372.9" font-family='"Liberation Serif", serif' font-size="15.6" fill="#111" stroke="#111" stroke-width="0.18">HHO</text>
<path d="M297.3 367.3h24" stroke="#0000ff" stroke-width="1.4"/>
<text x="323.7" y="372.9" font-family='"Liberation Serif", serif' font-size="15.6" fill="#111" stroke="#111" stroke-width="0.18">SSA</text>
<path d="M356.4 367.3h24" stroke="#00ff00" stroke-width="1.4"/>
<text x="384.0" y="372.9" font-family='"Liberation Serif", serif' font-size="15.6" fill="#111" stroke="#111" stroke-width="0.18">TSA</text>
<path d="M417.3 367.3h24" stroke="#ff00ff" stroke-width="1.4"/>
<text x="443.1" y="372.9" font-family='"Liberation Serif", serif' font-size="15.6" fill="#111" stroke="#111" stroke-width="0.18">BOA</text>
<path d="M480.8 367.3h5.8M491.7 367.3h6M503 367.3h2.4" stroke="#000" stroke-width="1.8"/>
<text x="507.7" y="372.9" font-family='"Liberation Serif", serif' font-size="15.6" fill="#111" stroke="#111" stroke-width="0.18">AOA</text>
</svg>
</body></html>
